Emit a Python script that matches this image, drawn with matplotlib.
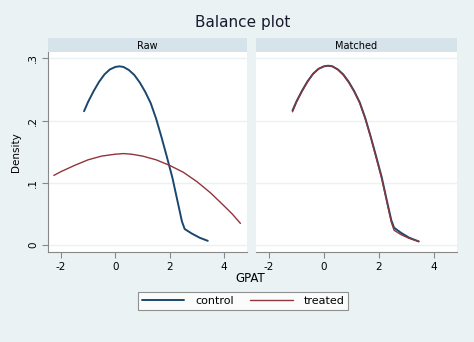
import matplotlib
matplotlib.use("Agg")
import matplotlib.pyplot as plt

# densities
raw_ctrl_x = [-1.15, -1.0, -0.8, -0.6, -0.4, -0.2, 0.0, 0.15, 0.3, 0.5, 0.7, 0.9, 1.1, 1.3, 1.5,
              1.7, 1.9, 2.1, 2.3, 2.45, 2.55, 2.8, 3.1, 3.4]
raw_ctrl_y = [0.215, 0.230, 0.247, 0.262, 0.274, 0.282, 0.286, 0.287, 0.286, 0.281, 0.273, 0.261,
              0.246, 0.228, 0.203, 0.173, 0.141, 0.108, 0.068, 0.038, 0.026, 0.019, 0.012, 0.007]
raw_treat_x = [-2.26, -2.0, -1.5, -1.0, -0.5, 0.0, 0.3, 0.6, 1.0, 1.5, 2.0, 2.5, 3.0, 3.5, 4.0, 4.3, 4.6]
raw_treat_y = [0.112, 0.118, 0.128, 0.137, 0.143, 0.146, 0.147, 0.146, 0.143, 0.137, 0.128, 0.117,
               0.102, 0.084, 0.063, 0.050, 0.035]
match_ctrl_x = [-1.15, -1.0, -0.8, -0.6, -0.4, -0.2, 0.0, 0.15, 0.3, 0.5, 0.7, 0.9, 1.1, 1.3, 1.5,
                1.7, 1.9, 2.1, 2.3, 2.45, 2.55, 2.8, 3.1, 3.45]
match_ctrl_y = [0.216, 0.231, 0.248, 0.263, 0.275, 0.283, 0.287, 0.288, 0.287, 0.282, 0.274, 0.262,
                0.247, 0.229, 0.204, 0.174, 0.142, 0.109, 0.069, 0.040, 0.028, 0.020, 0.012, 0.006]
match_treat_x = [-1.15, -1.0, -0.8, -0.6, -0.4, -0.2, 0.0, 0.15, 0.3, 0.5, 0.7, 0.9, 1.1, 1.3, 1.5,
                 1.7, 1.9, 2.1, 2.3, 2.45, 2.55, 2.8, 3.1, 3.45]
match_treat_y = [0.214, 0.230, 0.247, 0.262, 0.275, 0.283, 0.287, 0.288, 0.287, 0.282, 0.273, 0.261,
                 0.246, 0.228, 0.203, 0.173, 0.140, 0.107, 0.067, 0.037, 0.024, 0.017, 0.011, 0.006]

x_ticks = [-2, 0, 2, 4]
y_ticks = [0, 0.1, 0.2, 0.3]
y_labels = ["0", ".1", ".2", ".3"]

bg = "#eaf2f3"
strip = "#d6e3ea"
c_ctrl = "#1a476f"
c_treat = "#90353b"

fig = plt.figure(figsize=(4.74, 3.42), dpi=100, facecolor=bg)
fig.text(0.513, 0.935, "Balance plot", ha="center", va="center", fontsize=11, color="#1a1a2e")

panels = [
    ("Raw", [0.101, 0.263, 0.420, 0.585], raw_ctrl_x, raw_ctrl_y, raw_treat_x, raw_treat_y),
    ("Matched", [0.540, 0.263, 0.424, 0.585], match_ctrl_x, match_ctrl_y, match_treat_x, match_treat_y),
]

lines = []
for i, (name, pos, cx, cy, tx, ty) in enumerate(panels):
    ax = fig.add_axes(pos)
    ax.set_facecolor("white")
    for y in y_ticks:
        ax.axhline(y, color=bg, lw=1.0, zorder=0)
    l1, = ax.plot(cx, cy, color=c_ctrl, lw=1.4, solid_joinstyle="round", solid_capstyle="round")
    l2, = ax.plot(tx, ty, color=c_treat, lw=1.0, solid_joinstyle="round", solid_capstyle="round")
    lines = [l1, l2]
    ax.set_xlim(-2.48, 4.84)
    ax.set_ylim(-0.011, 0.31)
    ax.set_xticks(x_ticks)
    ax.set_xticklabels([str(v) for v in x_ticks], fontsize=7.5)
    ax.set_yticks(y_ticks)
    for s in ["top", "right"]:
        ax.spines[s].set_visible(False)
    ax.spines["bottom"].set_color("#888888")
    ax.tick_params(axis="x", colors="#888888", labelcolor="black", length=4, width=0.8, pad=3)
    if i == 0:
        ax.set_yticklabels(y_labels, rotation=90, va="center", fontsize=7.5)
        ax.spines["left"].set_color("#888888")
        ax.tick_params(axis="y", colors="#888888", labelcolor="black", length=4, width=0.8, pad=3)
        ax.set_ylabel("Density", fontsize=7.5, labelpad=5)
    else:
        ax.spines["left"].set_visible(False)
        ax.tick_params(axis="y", left=False, labelleft=False)
    # strip header
    sax = fig.add_axes([pos[0], pos[1] + pos[3], pos[2], 0.041])
    sax.set_facecolor(strip)
    sax.set_xticks([])
    sax.set_yticks([])
    for s in sax.spines.values():
        s.set_visible(False)
    sax.text(0.5, 0.45, name, ha="center", va="center", fontsize=7, transform=sax.transAxes)

fig.text(0.527, 0.187, "GPAT", ha="center", va="center", fontsize=8.5)
leg = fig.legend(lines, ["control", "treated"], loc="center", bbox_to_anchor=(0.513, 0.121),
                 ncol=2, fontsize=8, frameon=True, fancybox=False, handlelength=3.8,
                 columnspacing=1.5, handletextpad=1.0, borderpad=0.35)
leg.get_frame().set_edgecolor("#777777")
leg.get_frame().set_linewidth(0.8)

fig.savefig("out.png", dpi=100, facecolor=bg)
